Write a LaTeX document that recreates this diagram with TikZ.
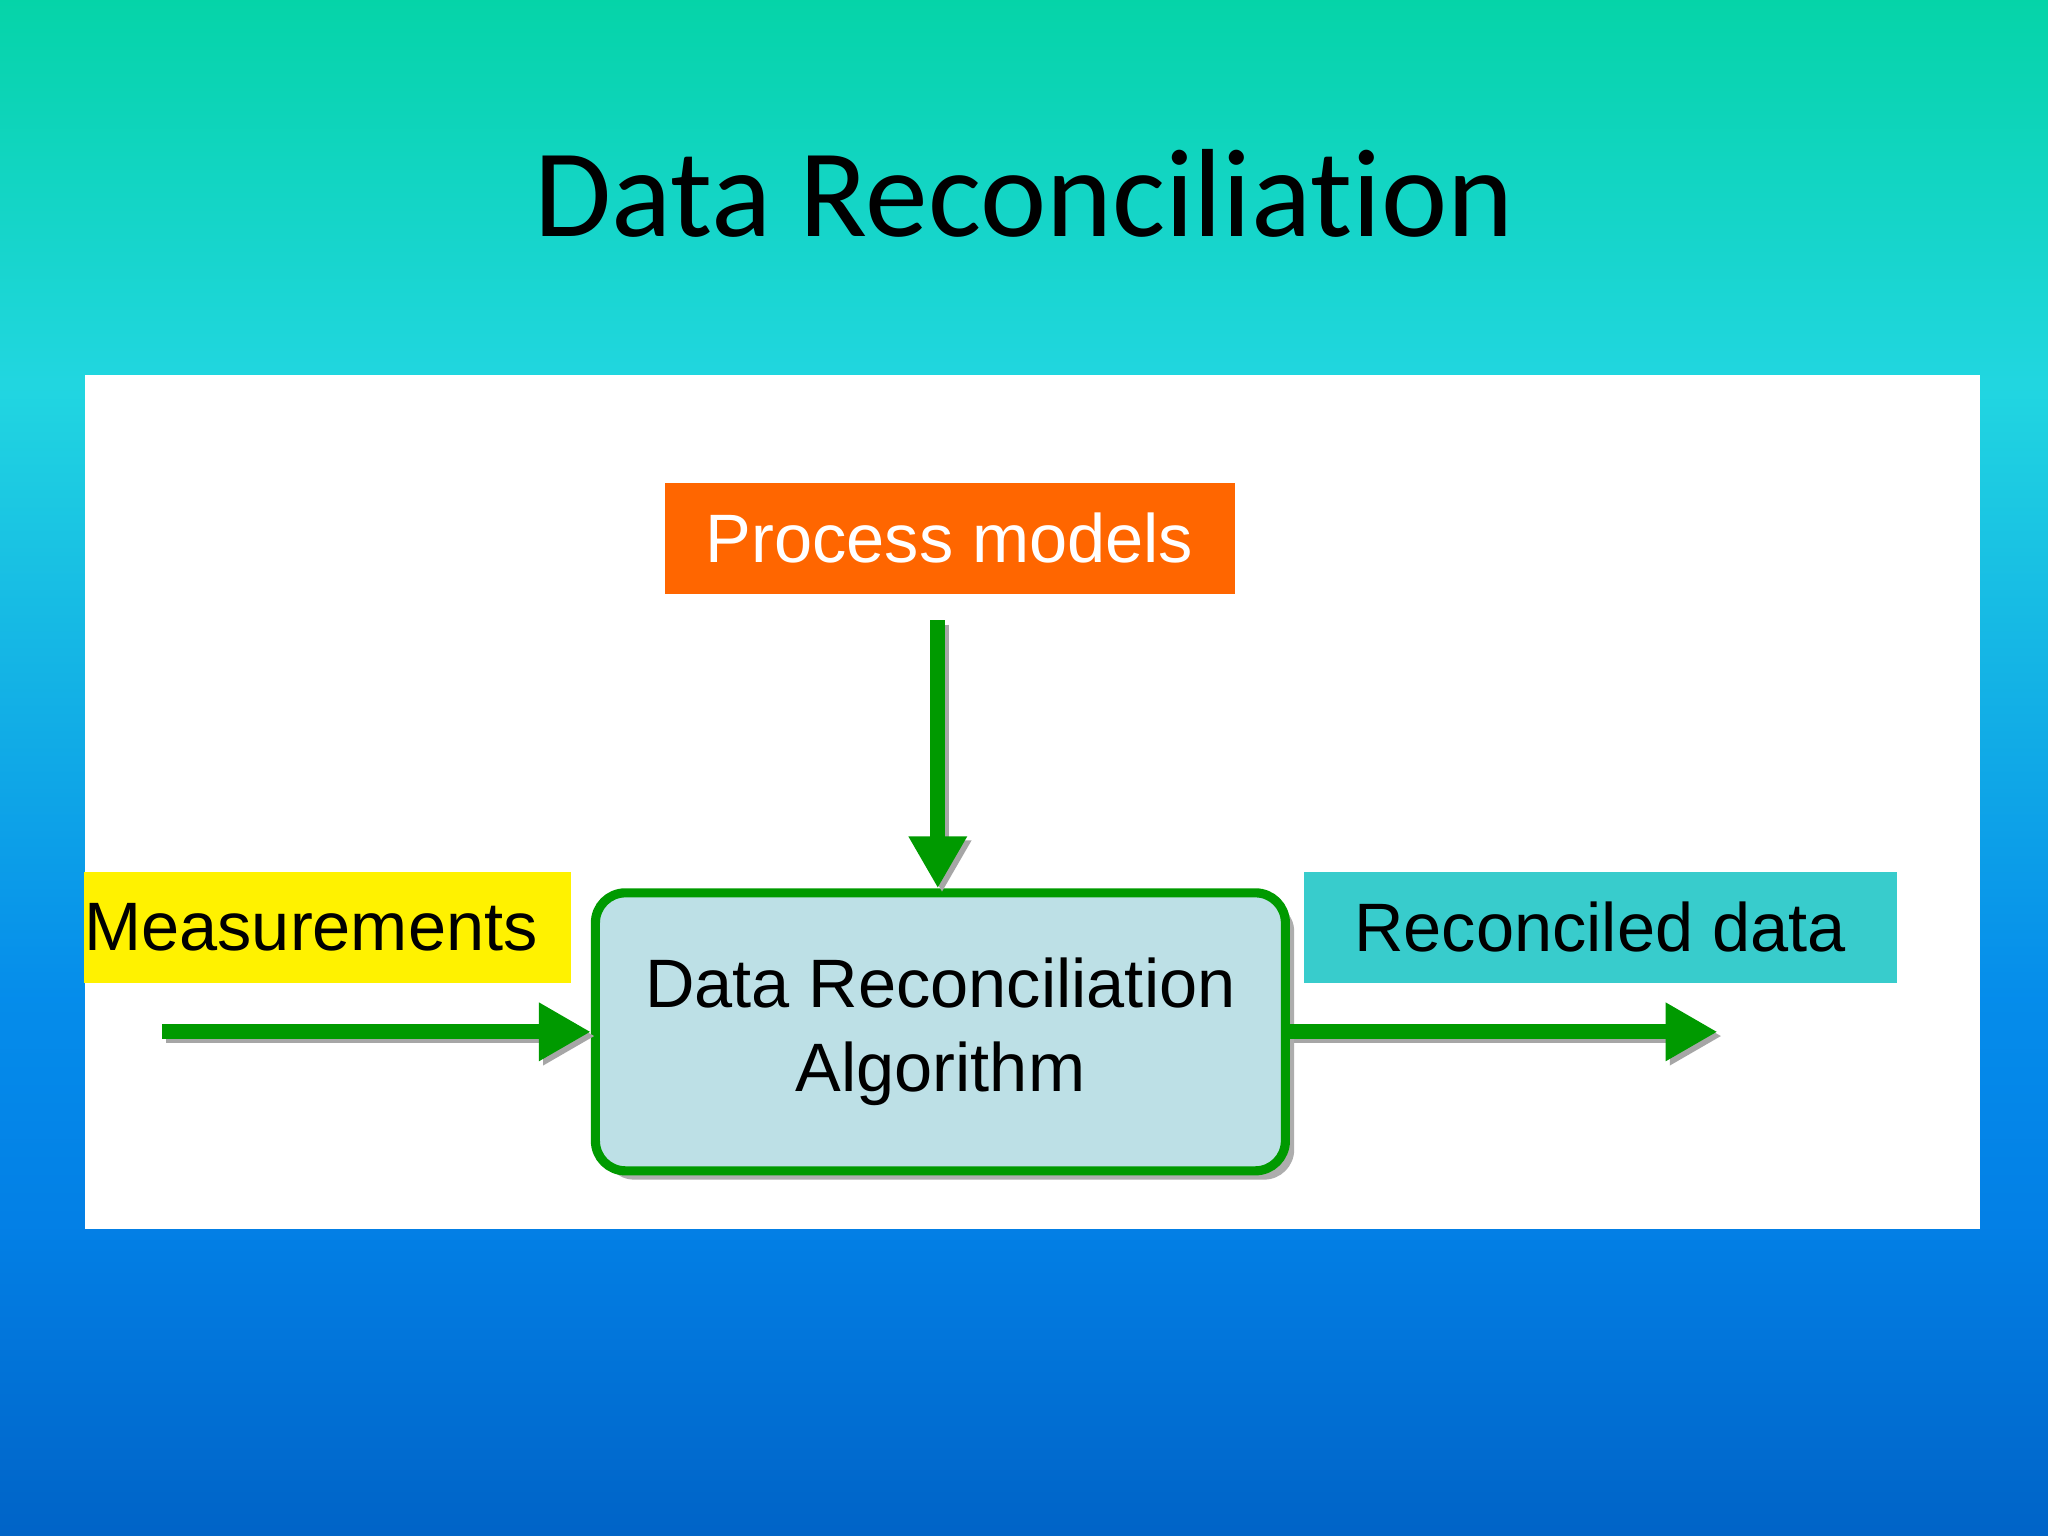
\documentclass[tikz,border=0pt]{standalone}
\usepackage{fontspec}
\setmainfont{Liberation Sans}
\newfontfamily\titlefont[RawFeature=-liga]{Carlito}
\usetikzlibrary{arrows.meta,shadows}
\definecolor{flowgreen}{HTML}{009A00}
\definecolor{procorange}{HTML}{FF6600}
\definecolor{reccyan}{HTML}{38CCCC}
\definecolor{algfill}{HTML}{BDE0E6}
\pgfdeclareverticalshading{slidebg}{100bp}{
  rgb(0bp)=(0,0.39,0.78);
  rgb(25bp)=(0,0.39,0.78);
  rgb(35bp)=(0.01,0.50,0.90);
  rgb(42.5bp)=(0.02,0.55,0.92);
  rgb(62.5bp)=(0.13,0.84,0.88);
  rgb(75bp)=(0.02,0.83,0.66);
  rgb(100bp)=(0.02,0.83,0.66)}
\tikzset{
  label box/.style = {draw=none, minimum height=1.11cm, inner sep=0pt, font=\fontsize{19.5}{22}\selectfont},
  flow/.style = {flowgreen, line width=4.2pt, -{Triangle[length=0.52cm,width=0.55cm]},
    preaction={draw=black!35, line width=4.2pt, transform canvas={xshift=1.2pt,yshift=-1.2pt}, -{Triangle[length=0.52cm,width=0.55cm]}}}
}
\begin{document}
\begin{tikzpicture}[x=0.013061cm,y=-0.013061cm]
    \useasboundingbox (0,0) rectangle (1568,1176);
    % slide background
    \shade[shading=slidebg] (0,0) rectangle (1568,1176);
    \fill[white] (65,287) rectangle (1516,941);

    \node (title) [font=\titlefont\fontsize{35.7}{42}\selectfont] at (784,148) {Data Reconciliation};

    \node (proc) [label box, fill=procorange, text=white, minimum width=5.7cm] at (727,412) {Process models};
    \node (meas) [label box, fill=yellow, minimum width=4.87cm, text width=4.87cm, align=left] at (251,710) {Measurements};
    \node (rec) [label box, fill=reccyan, minimum width=5.93cm] at (1225,710) {Reconciled data};

    \node (alg) [draw=flowgreen, line width=2.6pt, fill=algfill, rounded corners=0.3cm,
        minimum width=6.9cm, minimum height=2.78cm, align=center,
        drop shadow={shadow xshift=2.5pt, shadow yshift=-2.5pt, fill=black!40, opacity=0.8},
        font=\fontsize{19.5}{24}\selectfont] at (720,790) {Data Reconciliation\\Algorithm};

    % connectors
    \coordinate (topin) at (718,475);
    \coordinate (leftin) at (124,790);
    \coordinate (rightout) at (1315,790);
    \draw[flow] (topin) -- (alg.north -| topin);
    \draw[flow] (leftin) -- (alg.west |- leftin);
    \draw[flow] (alg.east |- rightout) -- (rightout);
\end{tikzpicture}
\end{document}
